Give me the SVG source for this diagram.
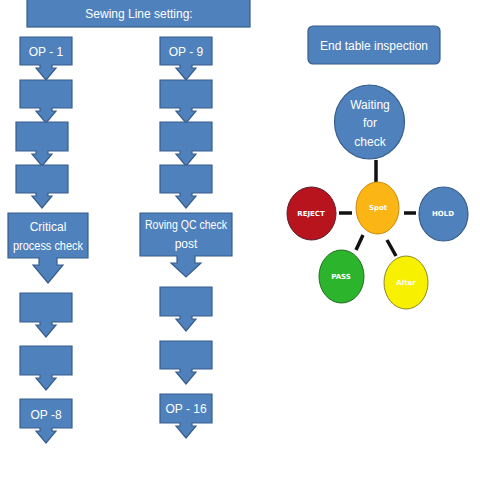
<svg xmlns="http://www.w3.org/2000/svg" width="480" height="480" viewBox="0 0 480 480">
<style>
.b{fill:#4F81BD;stroke:#385D8A;stroke-width:1.2}
.t{fill:#fff;font-family:"Liberation Sans",Arial,sans-serif;font-size:12px;text-anchor:middle}
.s{fill:#fff;font-family:"DejaVu Sans",sans-serif;font-weight:bold;font-size:7px;text-anchor:middle}
.l{stroke:#111;stroke-width:3.5;fill:none}
</style>
<rect width="480" height="480" fill="#fff"/>
<g id="title"><rect class="b" x="27" y="-2" width="223" height="29"/><text class="t" x="139" y="18" font-size="12.5">Sewing Line setting:</text></g>

<g id="left">
<g id="op1"><path class="b" d="M20 37H72V65H52V68H56L46 80L36 68H40V65H20Z"/><text class="t" x="46" y="56">OP - 1</text></g>
<g id="l2"><path class="b" d="M20 80H72V108H52V111H56L46 123L36 111H40V108H20Z"/></g>
<g id="l3"><path class="b" d="M16 122H68V151H48V154H52L42 166L32 154H36V151H16Z"/></g>
<g id="l4"><path class="b" d="M16 165H68V193H48V196H52L42 208L32 196H36V193H16Z"/></g>
<g id="critical"><path class="b" d="M8 213H88V258H57V265H63L48 283L33 265H39V258H8Z"/><text class="t" x="48" y="231">Critical</text><text class="t" x="48" y="250" textLength="70" lengthAdjust="spacingAndGlyphs">process check</text></g>
<g id="l6"><path class="b" d="M20 293H72V322H52V325H56L46 337L36 325H40V322H20Z"/></g>
<g id="l7"><path class="b" d="M20 346H72V375H52V378H56L46 390L36 378H40V375H20Z"/></g>
<g id="op8"><path class="b" d="M20 399H72V428H52V431H56L46 443L36 431H40V428H20Z"/><text class="t" x="46" y="419">OP -8</text></g>
</g>

<g id="right">
<g id="op9"><path class="b" d="M160 37H212V65H192V68H196L186 80L176 68H180V65H160Z"/><text class="t" x="186" y="56">OP - 9</text></g>
<g id="r2"><path class="b" d="M160 80H212V108H192V111H196L186 123L176 111H180V108H160Z"/></g>
<g id="r3"><path class="b" d="M160 122H212V151H192V154H196L186 166L176 154H180V151H160Z"/></g>
<g id="r4"><path class="b" d="M160 165H212V193H192V196H196L186 208L176 196H180V193H160Z"/></g>
<g id="roving"><path class="b" d="M140 213H232V256H195V263H201L186 277L171 263H177V256H140Z"/><text class="t" x="186" y="229" textLength="82" lengthAdjust="spacingAndGlyphs">Roving QC check</text><text class="t" x="186" y="248">post</text></g>
<g id="r6"><path class="b" d="M160 287H212V316H192V319H196L186 331L176 319H180V316H160Z"/></g>
<g id="r7"><path class="b" d="M160 341H212V369H192V372H196L186 384L176 372H180V369H160Z"/></g>
<g id="op16"><path class="b" d="M160 394H212V423H192V426H196L186 438L176 426H180V423H160Z"/><text class="t" x="186" y="413">OP - 16</text></g>
</g>

<g id="end-table"><rect class="b" x="308" y="26" width="132" height="38" rx="5"/><text class="t" x="374" y="50">End table inspection</text></g>

<g id="connectors">
<line class="l" x1="376" y1="160" x2="376" y2="182" stroke-width="2.5"/>
<line class="l" x1="339" y1="213" x2="352" y2="213"/>
<line class="l" x1="404" y1="213" x2="416" y2="213"/>
<line class="l" x1="363" y1="235" x2="356" y2="250" stroke-width="2.5"/>
<line class="l" x1="387" y1="240" x2="396" y2="256" stroke-width="2.5"/>
</g>

<g id="waiting"><ellipse class="b" cx="369.5" cy="122" rx="35" ry="37"/><text class="t" x="370" y="109">Waiting</text><text class="t" x="370" y="127">for</text><text class="t" x="370" y="146">check</text></g>
<g id="spot"><ellipse cx="377.5" cy="208" rx="21.5" ry="26" fill="#FBB514" stroke="#C98A0E"/><text class="s" x="378" y="210">Spot</text></g>
<g id="reject"><ellipse cx="311.5" cy="213.5" rx="24.5" ry="26.5" fill="#B8141E" stroke="#5A1E2E"/><text class="s" x="311" y="216">REJECT</text></g>
<g id="hold"><ellipse class="b" cx="443.5" cy="214" rx="24.5" ry="27"/><text class="s" x="443" y="216">HOLD</text></g>
<g id="pass"><ellipse cx="341.5" cy="276.5" rx="22.5" ry="26.5" fill="#2DB42D" stroke="#1E6E1E"/><text class="s" x="341" y="279">PASS</text></g>
<g id="alter"><ellipse cx="406" cy="282.5" rx="22" ry="26.5" fill="#F7F000" stroke="#8C8A1E"/><text class="s" x="406" y="285">Alter</text></g>
</svg>
